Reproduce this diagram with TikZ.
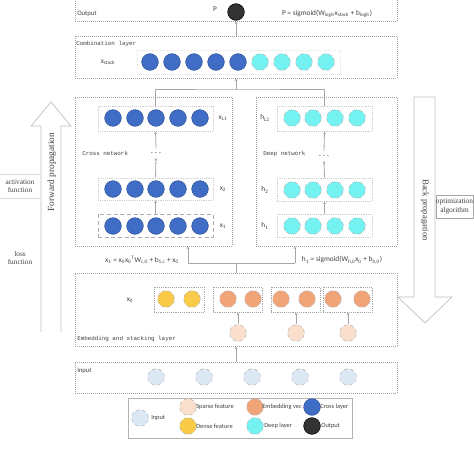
\documentclass[tikz,border=0pt]{standalone}
\usepackage{fontspec}
\setmainfont{Liberation Serif}
\newfontfamily\carl{Carlito}
\newfontfamily\monof{Liberation Mono}
\usetikzlibrary{fit,arrows.meta}
\definecolor{crossblue}{HTML}{3F6DC5}
\definecolor{crossedge}{HTML}{2F5597}
\definecolor{deepcyan}{HTML}{74F2F2}
\definecolor{densey}{HTML}{F9CB48}
\definecolor{embor}{HTML}{F1A477}
\definecolor{sparsep}{HTML}{F9DFCC}
\definecolor{inputb}{HTML}{DDE8F5}
\definecolor{outblack}{HTML}{333333}
\definecolor{txt}{HTML}{404040}
\begin{document}
\begin{tikzpicture}[x=0.75pt,y=-0.75pt,
  layer/.style={draw=gray!75, densely dotted, line width=0.5pt, inner sep=0pt},
  rowbox/.style={draw=gray!40, densely dotted, line width=0.4pt, inner sep=0pt},
  rowboxd/.style={draw=gray!65, densely dashed, line width=0.35pt, inner sep=0pt},
  unit/.style={circle, minimum size=12.5pt, inner sep=0pt, line width=0.4pt},
  crossu/.style={unit, fill=crossblue, draw=crossedge},
  deepu/.style={unit, fill=deepcyan, draw=gray!55, densely dashed},
  denseu/.style={unit, fill=densey, draw=gray!55, densely dashed},
  embu/.style={unit, fill=embor, draw=gray!55, densely dashed},
  sparseu/.style={unit, fill=sparsep, draw=gray!55, densely dashed},
  inputu/.style={unit, fill=inputb, draw=gray!55, densely dashed},
  outu/.style={unit, fill=outblack, draw=black},
  conn/.style={draw=gray!70, line width=0.6pt},
  arr/.style={conn, -{Stealth[length=2.2pt,width=2pt]}},
  bigarrow/.style={draw=gray!50, line width=0.5pt, fill=white},
  lbl/.style={font=\monof\fontsize{4.4}{5}\selectfont, text=txt, anchor=west, inner sep=0pt},
  sl/.style={font=\carl\fontsize{5.5}{6.5}\selectfont, text=txt, inner sep=0pt},
  ll/.style={font=\carl\fontsize{4.8}{5.5}\selectfont, text=txt, anchor=west, inner sep=0pt},
  serifl/.style={font=\fontsize{5.5}{6.5}\selectfont, text=txt, align=center, inner sep=0pt},
]
\useasboundingbox (0,0) rectangle (474,450);

% ---------- big side arrows ----------
\path[bigarrow] (41,332) -- (41,126) -- (31,126) -- (51,102) -- (71,126) -- (61,126) -- (61,332);
\node[font=\fontsize{7}{8}\selectfont, text=txt, rotate=90, inner sep=0pt] (fwd) at (52,172) {Forward propagation};
\path[bigarrow] (414,97) -- (414,297) -- (398,297) -- (425,323) -- (452,297) -- (435,297) -- (435,97) -- cycle;
\node[font=\fontsize{6.5}{7.5}\selectfont, text=txt, rotate=-90, inner sep=0pt] (bwd) at (425,210) {Back propagation};

\draw[draw=gray!30, line width=0.5pt] (0,174) -- (40,174);
\draw[draw=gray!30, line width=0.5pt] (0,198) -- (40,198);
\node[serifl] (act) at (20,186) {activation\\function};
\node[serifl] (loss) at (20,258) {loss\\function};
\node[serifl, draw=gray!70, fill=white, line width=0.5pt, minimum width=27.5pt, minimum height=17pt] (opt) at (454.5,206.5) {optimization\\algorithm};

% ---------- output layer ----------
\node[layer, fit={(75,-3)(397,21)}] (out) {};
\node[sl, anchor=west, font=\carl\fontsize{5}{6}\selectfont] (outlbl) at (77,14) {Output};
\node[sl] (plbl) at (215,9) {P};
\node[outu] (p) at (236,12) {};
\node[sl] (pform) at (327,14) {P = sigmoid(W\textsubscript{logit}x\textsubscript{stack} + b\textsubscript{logit})};

% ---------- combination layer ----------
\node[layer, fit={(75,36)(397,78)}] (comb) {};
\node[lbl] (comblbl) at (76,44) {Combination layer};
\node[rowbox, draw=gray!20, fit={(137,50)(340,74)}] (combrow) {};
\node[sl] (xst) at (108,62) {x\textsubscript{stack}};
\foreach \i/\x in {1/150,2/172,3/194,4/216,5/238} \node[crossu] (k\i) at (\x,62) {};
\foreach \i/\x in {6/260,7/282,8/304,9/326} \node[deepu] (k\i) at (\x,62) {};
\draw[arr] (comb.north) -- (out.south);

% ---------- cross network ----------
\node[layer, fit={(75,97)(232,246)}] (cross) {};
\node[lbl] (crosslbl) at (82,153) {Cross network};
\node[rowbox, fit={(98,106)(213,131)}] (c3) {};
\node[rowbox, fit={(98,178)(213,200)}] (c2) {};
\node[rowboxd, fit={(98,214)(213,237)}] (c1) {};
\foreach \i/\x in {1/113,2/135,3/156,4/178,5/200} {
  \node[crossu] (c3-\i) at (\x,118) {};
  \node[crossu] (c2-\i) at (\x,189) {};
  \node[crossu] (c1-\i) at (\x,226) {};
}
\node[sl] (xl1) at (223,118) {x\textsubscript{L1}};
\node[sl] (xl2) at (223,189) {x\textsubscript{2}};
\node[sl] (xl0) at (223,226) {x\textsubscript{1}};
\node[sl, text=black] (cdots) at (156,153) {. . .};
\draw[arr] (c1.north) -- (c2.south);
\draw[arr] (c2.north) -- ([yshift=-3pt]cdots.south);
\draw[arr] ([yshift=3pt]cdots.north) -- (c3.south);

% ---------- deep network ----------
\node[layer, fit={(256,97)(397,246)}] (deep) {};
\node[lbl] (deeplbl) at (263,154) {Deep network};
\node[rowbox, fit={(277,106)(372,131)}] (d3) {};
\node[rowbox, fit={(277,178)(372,201)}] (d2) {};
\node[rowbox, fit={(277,214)(372,237)}] (d1) {};
\foreach \i/\x in {1/292,2/313,3/335,4/357} {
  \node[deepu] (d3-\i) at (\x,118) {};
  \node[deepu] (d2-\i) at (\x,190) {};
  \node[deepu] (d1-\i) at (\x,226) {};
}
\node[sl] (hl2) at (265,118) {h\textsubscript{L2}};
\node[sl] (hl1) at (265,190) {h\textsubscript{2}};
\node[sl] (hl0) at (265,226) {h\textsubscript{1}};
\node[sl, text=black] (ddots) at (324,156) {. . .};
\draw[arr] (d1.north) -- (d2.south);
\draw[arr] (d2.north) -- ([yshift=-3pt]ddots.south);
\draw[arr] ([yshift=3pt]ddots.north) -- (d3.south);

% join to combination layer
\coordinate (jtop) at (236,89);
\draw[conn] (c3.north) |- (jtop) -| (d3.north);
\draw[arr] (jtop) -- (comb.south);

% ---------- formulas ----------
\node[sl] (fx) at (142,260) {x\textsubscript{1} = x\textsubscript{0}x\textsubscript{0}\textsuperscript{T}W\textsubscript{c,0} + b\textsubscript{1,c} + x\textsubscript{0}};
\node[sl] (fh) at (342,260) {h\textsubscript{1} = sigmoid(W\textsubscript{h,0}x\textsubscript{0} + b\textsubscript{h,0})};

% ---------- embedding layer ----------
\node[layer, fit={(75,273)(397,346)}] (emb) {};
\node[lbl] (emblbl) at (77,339) {Embedding and stacking layer};
\node[sl] (x0) at (130,300) {x\textsubscript{0}};
\node[rowbox, draw=gray!70, fit={(154,287)(204,312)}] (g1) {};
\node[rowbox, draw=gray!70, fit={(213,287)(262,312)}] (g2) {};
\node[rowbox, draw=gray!70, fit={(271,287)(320,312)}] (g3) {};
\node[rowbox, draw=gray!70, fit={(323,287)(372,312)}] (g4) {};
\node[denseu] (e1) at (166,299) {};
\node[denseu] (e2) at (192,299) {};
\node[embu] (e3) at (228,299) {};
\node[embu] (e4) at (253,299) {};
\node[embu] (e5) at (281,299) {};
\node[embu] (e6) at (307,299) {};
\node[embu] (e7) at (333,299) {};
\node[embu] (e8) at (362,299) {};
\node[sparseu] (s1) at (238,333) {};
\node[sparseu] (s2) at (296,333) {};
\node[sparseu] (s3) at (348,333) {};
\draw[arr] (s1) -- (g2.south -| s1);
\draw[arr] (s2) -- (g3.south -| s2);
\draw[arr] (s3) -- (g4.south -| s3);

% join from embedding to both networks
\coordinate (jbot) at (236,263);
\coordinate (jl) at (188,263);
\coordinate (jr) at (295,263);
\draw[conn] (emb.north -| jbot) -- (jbot);
\draw[conn] (jl) -- (jr);
\draw[arr] (jl) -- (cross.south -| jl);
\draw[arr] (jr) -- (deep.south -| jr);

% ---------- input layer ----------
\node[layer, fit={(75,362)(397,393)}] (inp) {};
\node[sl, anchor=west, font=\carl\fontsize{5}{6}\selectfont] (inplbl) at (77,371) {Input};
\foreach \i/\x in {1/156,2/204,3/252,4/300,5/348} \node[inputu] (i\i) at (\x,377) {};
\draw[arr] (inp.north) -- (emb.south);

% ---------- legend ----------
\node[draw=gray!60, line width=0.5pt, fit={(128,398)(352,438)}, inner sep=0pt] (leg) {};
\node[inputu] (lin) at (140,418) {};
\node[ll] (linl) at (151,418) {Input};
\node[sparseu] (lsp) at (188,407) {};
\node[ll] (lspl) at (196,407) {Sparse feature};
\node[denseu] (lde) at (188,426) {};
\node[ll] (ldel) at (196,426) {Dense feature};
\node[embu] (lem) at (255,407) {};
\node[ll] (leml) at (262,407) {Embedding vec};
\node[deepu] (ldp) at (255,426) {};
\node[ll] (ldpl) at (264,426) {Deep layer};
\node[crossu] (lcr) at (312,407) {};
\node[ll] (lcrl) at (320,407) {Cross layer};
\node[outu] (lou) at (312,426) {};
\node[ll] (loul) at (321,426) {Output};
\end{tikzpicture}
\end{document}
